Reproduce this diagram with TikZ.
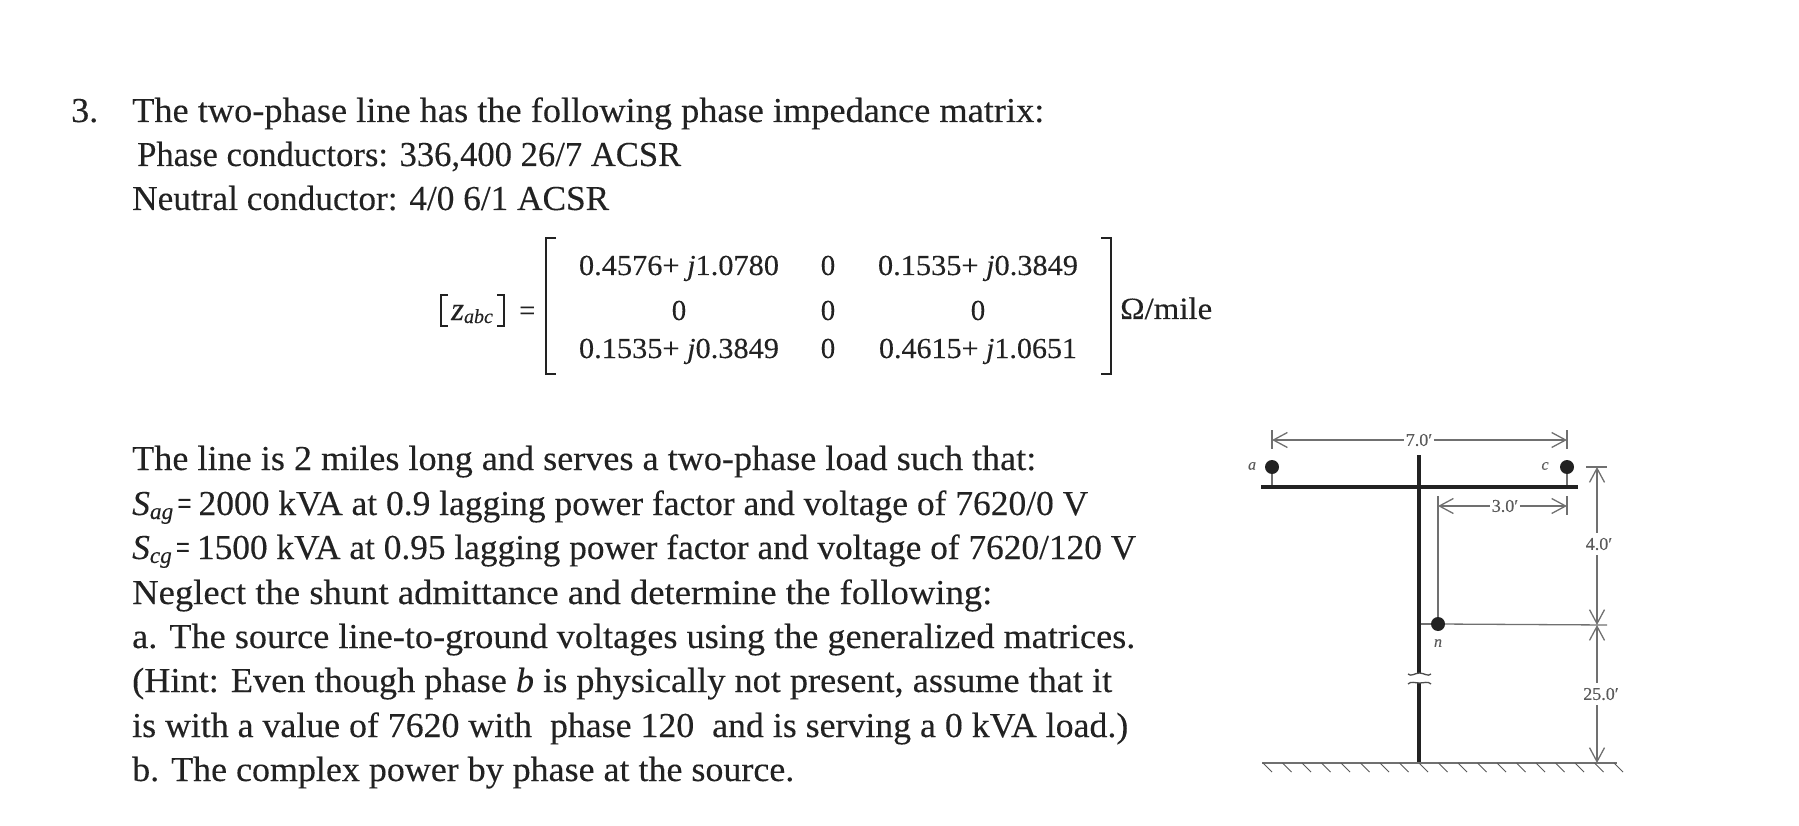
\documentclass[tikz,border=0pt]{standalone}
\usepackage{fontspec}
\usepackage{graphicx}
\setmainfont[FakeBold=0.2]{Liberation Serif}
\usetikzlibrary{arrows.meta}
\definecolor{ink}{HTML}{222222}
\definecolor{dimc}{HTML}{707070}
\newcommand{\fitw}[2]{\resizebox{#1pt}{\height}{#2}}
\newcommand{\subs}[1]{\raisebox{-4pt}{\fontsize{23}{23}\selectfont\itshape #1}}
\newcommand{\tighteq}{\kern4pt\resizebox{14pt}{\height}{=}\kern7pt}
\tikzset{
  body/.style={anchor=base west,inner sep=0pt,text=ink,font=\fontsize{35}{35}\selectfont},
  mtx/.style={anchor=base,inner sep=0pt,text=ink,font=\fontsize{29}{29}\selectfont},
  dimlabel/.style={inner sep=1.5pt,fill=white,text=dimc!80!black,font=\fontsize{18}{18}\selectfont},
  vlabel/.style={dimlabel,fill=none,inner ysep=5pt},
  phase/.style={inner sep=0pt,text=dimc!80!black,font=\fontsize{16}{16}\selectfont\itshape},
  cond/.style={circle,fill=ink,inner sep=0pt,minimum size=14pt},
  dimline/.style={draw=dimc,line width=1.3pt},
  dimstart/.style={dimline,{Straight Barb[length=14pt,width=15pt]}-},
  dimend/.style={dimline,-{Straight Barb[length=14pt,width=15pt]}},
  steel/.style={draw=ink,line cap=butt},
  brk/.style={draw=ink!80,line width=1.3pt}
}
\begin{document}
\begin{tikzpicture}[x=1pt,y=-1pt]
\useasboundingbox (0,0) rectangle (1799,826);
% question text
\node[body] (num) at (71,122) {\fitw{27}{3.}};
\node[body] (l1) at (132,122) {\fitw{912}{The two-phase line has the following phase impedance matrix:}};
\node[body] (l2) at (137,166) {\fitw{544}{Phase conductors: 336,400 26/7 ACSR}};
\node[body] (l3) at (132,210) {\fitw{477}{Neutral conductor: 4/0 6/1 ACSR}};
\node[body] (l4) at (132,470) {\fitw{904}{The line is 2 miles long and serves a two-phase load such that:}};
\node[body] (l5) at (132,515) {\fitw{956}{\textit{S}\subs{ag}\tighteq 2000 kVA at 0.9 lagging power factor and voltage of 7620/0 V}};
\node[body] (l6) at (132,559) {\fitw{1004}{\textit{S}\subs{cg}\tighteq 1500 kVA at 0.95 lagging power factor and voltage of 7620/120 V}};
\node[body] (l7) at (132,604) {\fitw{860}{Neglect the shunt admittance and determine the following:}};
\node[body] (l8) at (132,648) {\fitw{1003}{a. The source line-to-ground voltages using the generalized matrices.}};
\node[body] (l9) at (132,692) {\fitw{980}{(Hint: Even though phase \textit{b} is physically not present, assume that it}};
\node[body] (l10) at (132,737) {\fitw{996}{is with a value of 7620 with\ \ phase 120\ \ and is serving a 0 kVA load.)}};
\node[body] (l11) at (132,781) {\fitw{662}{b. The complex power by phase at the source.}};
% matrix equation
\node[mtx,anchor=base west] (zlab) at (451,320) {{\fontsize{33}{33}\selectfont\textit{z}}\raisebox{-3pt}{\fontsize{20}{20}\selectfont\itshape abc}};
\node[mtx,anchor=base west] (eq) at (519,320) {\fitw{16}{=}};
\node[mtx] (m11) at (679,275) {\fitw{200}{0.4576+ \textit{j}1.0780}};
\node[mtx] (m12) at (828,275) {0};
\node[mtx] (m13) at (978,275) {\fitw{200}{0.1535+ \textit{j}0.3849}};
\node[mtx] (m21) at (679,320) {0};
\node[mtx] (m22) at (828,320) {0};
\node[mtx] (m23) at (978,320) {0};
\node[mtx] (m31) at (679,358) {\fitw{200}{0.1535+ \textit{j}0.3849}};
\node[mtx] (m32) at (828,358) {0};
\node[mtx] (m33) at (978,358) {\fitw{198}{0.4615+ \textit{j}1.0651}};
\node[mtx,anchor=base west] (unit) at (1120,319) {\fitw{92}{{\fontsize{31}{31}\selectfont Ω/mile}}};
\draw[draw=ink,line width=1.2pt] (448,295) -- (441,295) -- (441,326) -- (448,326);
\draw[draw=ink,line width=1.2pt] (497,295) -- (504,295) -- (504,326) -- (497,326);
\draw[draw=ink,line width=1.5pt] (556,238) -- (546,238) -- (546,374) -- (556,374);
\draw[draw=ink,line width=1.5pt] (1101,238) -- (1111,238) -- (1111,374) -- (1101,374);
% pole geometry
\coordinate (poletop) at (1419,455);
\coordinate (polebreakA) at (1419,673);
\coordinate (polebreakB) at (1419,683);
\coordinate (polefoot) at (1419,763);
\coordinate (armL) at (1261,487);
\coordinate (armR) at (1578,487);
\coordinate (armA) at (1272,487);
\coordinate (armC) at (1567,487);
\coordinate (poleN) at (1419,624);
\coordinate (gndL) at (1262,763);
\coordinate (gndR) at (1617,763);
\node[cond] (a) at (1272,467) {};
\node[cond] (c) at (1567,467) {};
\node[cond] (n) at (1438,624) {};
\node[phase] (alab) at (1252,466) {a};
\node[phase] (clab) at (1545,466) {c};
\node[phase] (nlab) at (1438,643) {n};
\draw[dimline] (a) -- (armA);
\draw[dimline] (c) -- (armC);
\draw[dimline] (poleN) -- (n);
\draw[steel,line width=3.4pt] (armL) -- (armR);
\draw[steel,line width=4.2pt] (poletop) -- (polebreakA);
\draw[steel,line width=4.2pt] (polebreakB) -- (polefoot);
% pole break
\draw[brk] (1408,674) .. controls (1411,677) and (1415,673) .. (1419.5,673) .. controls (1424,673) and (1428,677) .. (1431,674);
\draw[brk] (1408,684) .. controls (1411,681) and (1415,683) .. (1419.5,683) .. controls (1424,683) and (1428,681) .. (1431,684);
% ground
\draw[draw=dimc,line width=1.2pt] (gndL) -- (gndR);
\foreach \k in {0,...,18}{
  \draw[draw=ink!75,line width=.9pt] ({1263+19.5*\k},763) -- ({1272+19.5*\k},772);
}
% 7.0 dimension
\coordinate (d7L) at (1272,440);
\coordinate (d7R) at (1567,440);
\node[dimlabel] (d7) at (1419,440) {7.0′};
\draw[dimline] (1272,430) -- (1272,449);
\draw[dimline] (1567,430) -- (1567,449);
\draw[dimstart] (d7L) -- (d7);
\draw[dimend] (d7) -- (d7R);
% 3.0 dimension
\coordinate (d3L) at (1438,506);
\coordinate (d3R) at (1567,506);
\coordinate (ext3) at (1438,496);
\node[dimlabel] (d3) at (1505,506) {3.0′};
\draw[dimline] (1567,496) -- (1567,515);
\draw[dimline] (ext3) -- (n);
\draw[dimstart] (d3L) -- (d3);
\draw[dimend] (d3) -- (d3R);
% vertical dimensions
\coordinate (v4top) at (1597,467);
\coordinate (vmid) at (1597,625);
\coordinate (vfoot) at (1597,763);
\coordinate (midR) at (1607,625);
\draw[dimline] (1586,467) -- (1607,467);
\draw[dimline] (n) -- (midR);
\node[vlabel] (d4) at (1599,544) {4.0′};
\node[vlabel] (d25) at (1601,694) {25.0′};
\draw[dimstart] (v4top) -- (v4top |- d4.north);
\draw[dimend] (v4top |- d4.south) -- (vmid);
\draw[dimstart] (vmid) -- (vmid |- d25.north);
\draw[dimend] (vmid |- d25.south) -- (vfoot);
\end{tikzpicture}
\end{document}
